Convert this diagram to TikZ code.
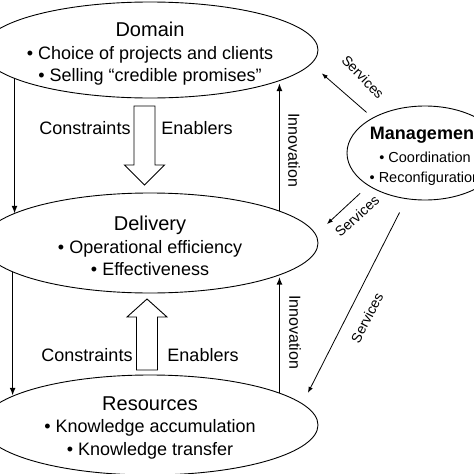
\documentclass[tikz,border=0pt]{standalone}
\usepackage{fontspec}
\setmainfont{Liberation Sans}
\usetikzlibrary{shapes.geometric,arrows.meta}
\begin{document}
\begin{tikzpicture}[x=1pt,y=-1pt,
  oval/.style={ellipse, draw, line width=0.9pt, inner sep=0pt},
  txt/.style={align=center, inner sep=0pt, font=\fontsize{18}{22.5}\selectfont},
  mtxt/.style={align=center, inner sep=0pt, font=\fontsize{14.5}{20}\selectfont},
  flow/.style={line width=1.7pt, -{Latex[length=8pt,width=6pt]}},
  svc/.style={line width=0.8pt, -{Latex[length=6pt,width=4.5pt]}},
  blockarrow/.style={line width=0.9pt, fill=white},
  lbl/.style={font=\fontsize{18}{18}\selectfont, inner sep=0pt},
  innov/.style={font=\fontsize{16}{16}\selectfont, inner sep=0pt, rotate=-90},
  svclbl/.style={font=\fontsize{14}{14}\selectfont, inner sep=0pt}]
\useasboundingbox (0,0) rectangle (474,474);

% ellipses
\node[oval, minimum width=336pt, minimum height=96pt] (dom) at (150,50) {};
\node[oval, minimum width=336pt, minimum height=100pt] (del) at (150,243) {};
\node[oval, minimum width=336pt, minimum height=100pt] (res) at (150,425) {};
\node[oval, minimum width=156pt, minimum height=94pt] (mg) at (425,153) {};

% texts
\node[txt] (domtxt) at (150,54) {\fontsize{20}{22}\selectfont Domain\\
   \textbullet\ Choice of projects and clients\\
   \textbullet\ Selling “credible promises”};
\node[txt] (deltxt) at (150,246) {\fontsize{20}{22}\selectfont Delivery\\
   \textbullet\ Operational efficiency\\
   \textbullet\ Effectiveness};
\node[txt] (restxt) at (150,427.5) {\fontsize{20}{22}\selectfont Resources\\
   \textbullet\ Knowledge accumulation\\
   \textbullet\ Knowledge transfer};
\node[mtxt] (mgtxt) at (425,156.5) {\fontsize{18}{22}\selectfont\bfseries Management\\[3pt]
   \textbullet\ Coordination\\
   \textbullet\ Reconfiguration};

% vertical flows
\draw[flow] (dom.192) -- (dom.192 |- del.168);
\draw[flow] (del.192) -- (del.192 |- res.168);
\draw[flow] (del.14.7) -- (del.14.7 |- dom.345.7);
\draw[flow] (res.14.7) -- (res.14.7 |- del.345.3);

\node[innov] (inn1) at (294,150) {Innovation};
\node[innov] (inn2) at (295,332) {Innovation};

% block arrows
\draw[blockarrow] (134,106) -- (155,106) -- (155,165) -- (164.5,165) -- (144.5,185)
  -- (124.5,165) -- (134,165) -- cycle;
\draw[blockarrow] (136.5,370) -- (157.5,370) -- (157.5,317) -- (167,317) -- (147,299)
  -- (127,317) -- (136.5,317) -- cycle;

\node[lbl] (c1) at (85,128) {Constraints};
\node[lbl] (e1) at (197,128) {Enablers};
\node[lbl] (c2) at (87,355) {Constraints};
\node[lbl] (e2) at (203,355) {Enablers};

% services
\draw[svc, shorten <=8pt, shorten >=14pt] (mg.146) -- (dom.355.4);
\draw[svc, shorten <=11pt, shorten >=15pt] (mg.210) -- (del.3.6);
\draw[svc, shorten <=15pt, shorten >=12pt] (mg.248.4) -- (res.8.2);

\node[svclbl, rotate=-46] (s1) at (363,77) {Services};
\node[svclbl, rotate=42] (s2) at (357,216) {Services};
\node[svclbl, rotate=62.7] (s3) at (367,318) {Services};
\end{tikzpicture}
\end{document}
